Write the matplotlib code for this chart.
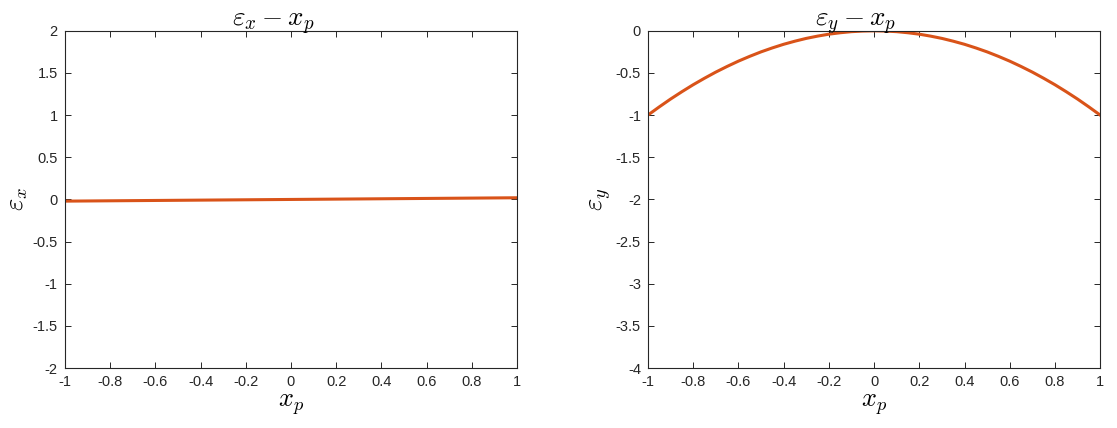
import numpy as np
import matplotlib.pyplot as plt
from matplotlib.ticker import FormatStrFormatter

# データ
xp_left = [-1.0, -0.5, 0.0, 0.5, 1.0]
eps_x = [-0.02, -0.01, 0.0, 0.01, 0.02]

xp_right = [-1.0, -0.95, -0.9, -0.85, -0.8, -0.75, -0.7, -0.65, -0.6, -0.55, -0.5,
            -0.45, -0.4, -0.35, -0.3, -0.25, -0.2, -0.15, -0.1, -0.05, 0.0,
            0.05, 0.1, 0.15, 0.2, 0.25, 0.3, 0.35, 0.4, 0.45, 0.5,
            0.55, 0.6, 0.65, 0.7, 0.75, 0.8, 0.85, 0.9, 0.95, 1.0]
eps_y = [-1.0, -0.903, -0.81, -0.723, -0.64, -0.563, -0.49, -0.423, -0.36, -0.303, -0.25,
         -0.203, -0.16, -0.123, -0.09, -0.063, -0.04, -0.023, -0.01, -0.003, 0.0,
         -0.003, -0.01, -0.023, -0.04, -0.063, -0.09, -0.123, -0.16, -0.203, -0.25,
         -0.303, -0.36, -0.423, -0.49, -0.563, -0.64, -0.723, -0.81, -0.903, -1.0]

x_ticks = [-1, -0.8, -0.6, -0.4, -0.2, 0, 0.2, 0.4, 0.6, 0.8, 1]
yticks_left = [-2, -1.5, -1, -0.5, 0, 0.5, 1, 1.5, 2]
yticks_right = [-4, -3.5, -3, -2.5, -2, -1.5, -1, -0.5, 0]

plt.rcParams['font.family'] = ['Liberation Sans', 'DejaVu Sans']
plt.rcParams['mathtext.fontset'] = 'cm'
plt.rcParams['axes.unicode_minus'] = False

line_color = '#D95319'
ax_color = '#262626'

fig = plt.figure(figsize=(11.17, 4.28), dpi=100)
ax1 = fig.add_axes([0.058, 0.140, 0.405, 0.788])
ax2 = fig.add_axes([0.580, 0.140, 0.405, 0.788])


def setup(ax, yticks, title, ylabel):
    ax.set_xlim(-1, 1)
    ax.set_ylim(yticks[0], yticks[-1])
    ax.set_xticks(x_ticks)
    ax.set_yticks(yticks)
    ax.xaxis.set_major_formatter(FormatStrFormatter('%g'))
    ax.yaxis.set_major_formatter(FormatStrFormatter('%g'))
    ax.tick_params(direction='in', top=True, right=True, length=4, width=0.7,
                   colors=ax_color, labelsize=10.5, pad=5)
    for s in ax.spines.values():
        s.set_color(ax_color)
        s.set_linewidth(0.8)
    t = ax.set_title(title, fontsize=19.5, color='black', pad=3)
    t.set_x(0.46)
    ax.set_xlabel(r'$x_p$', fontsize=19, labelpad=2)
    ax.set_ylabel(ylabel, fontsize=19, labelpad=2)


ax1.plot(xp_left, eps_x, color=line_color, linewidth=2.2)
setup(ax1, yticks_left, r'$\varepsilon_x - x_p$', r'$\varepsilon_x$')

ax2.plot(xp_right, eps_y, color=line_color, linewidth=2.2)
setup(ax2, yticks_right, r'$\varepsilon_y - x_p$', r'$\varepsilon_y$')

fig.savefig('out.png', dpi=100)
